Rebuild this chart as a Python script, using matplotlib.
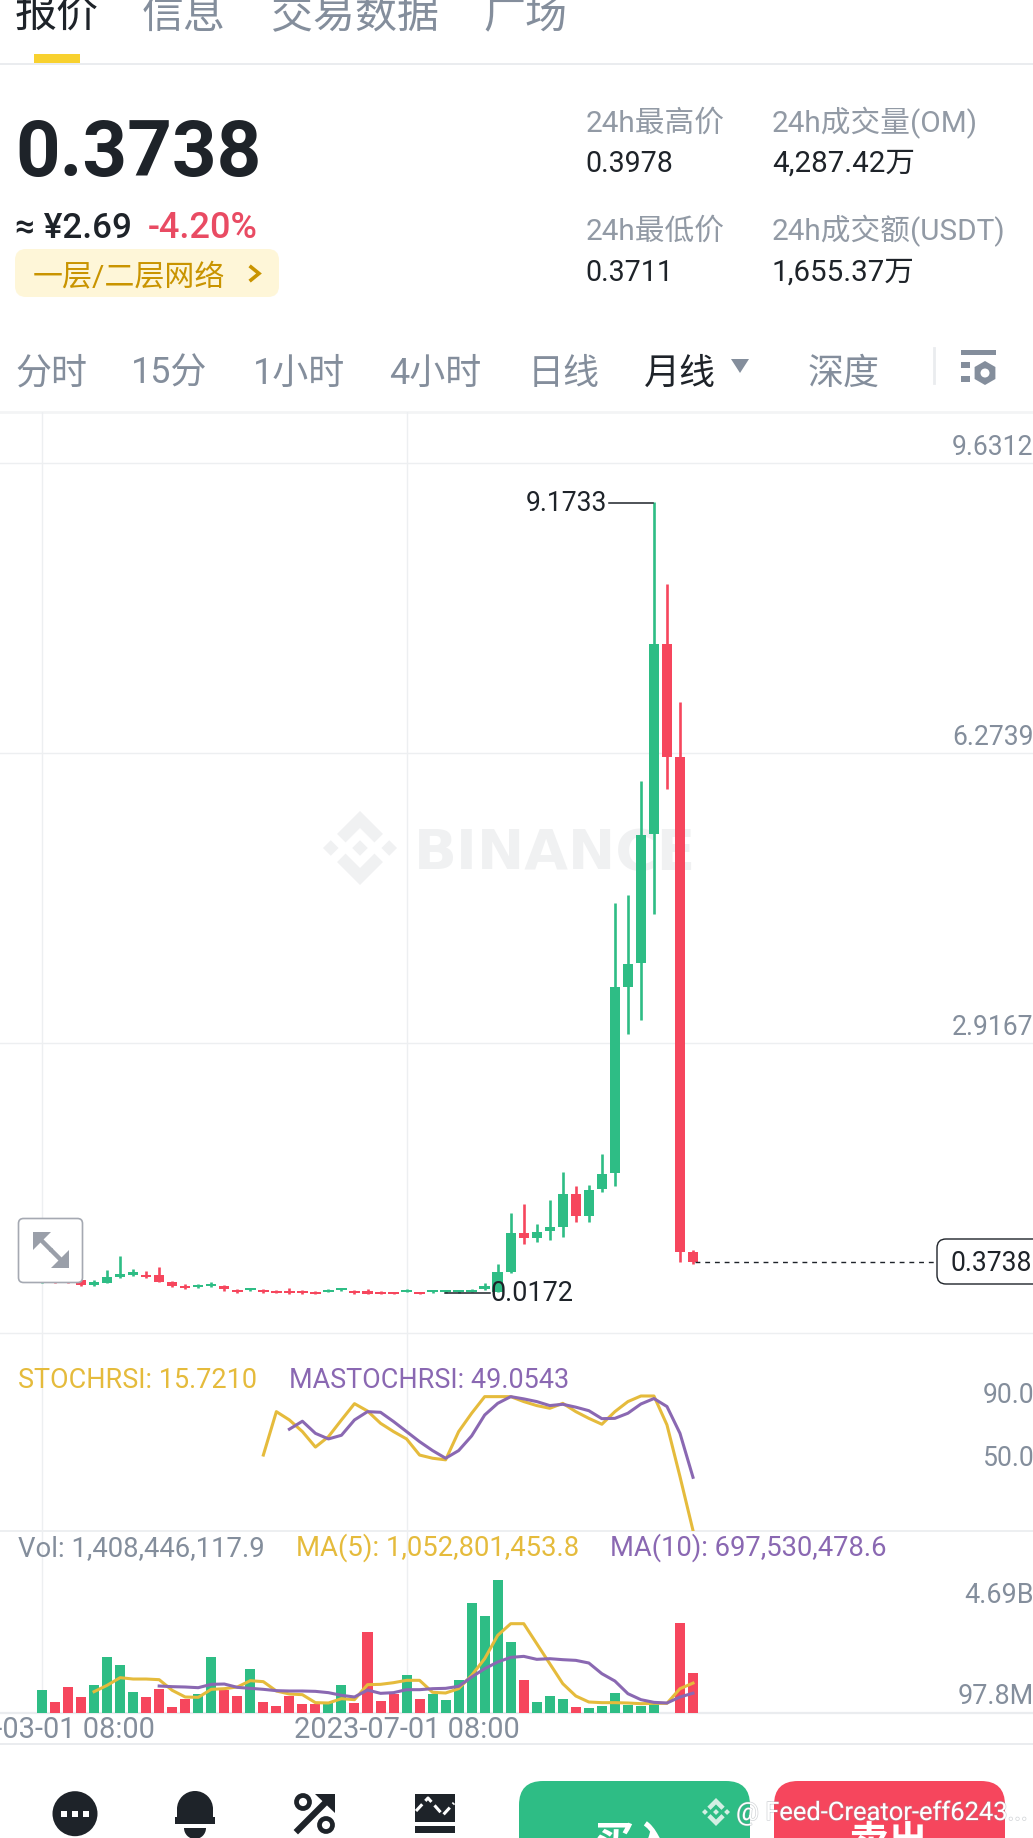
import numpy as np
import matplotlib
matplotlib.use('Agg')
import matplotlib.pyplot as plt
import matplotlib.patheffects as pe
from matplotlib.patches import FancyBboxPatch, Polygon, Circle, Rectangle, Wedge, RegularPolygon

plt.rcParams['font.family'] = ['Roboto', 'Noto Sans CJK SC', 'DejaVu Sans']

W, H = 1033, 1838

# candles
opens = [.15, .17, .15, .1695, .1155, .1387, .2081, .2274, .2313, .2236, .1503, .1001, .0924, .1001, .1001, .0538,
         .0499, .0538, .0461, .0461, .0461, .0345, .0345, .0499, .0422, .0383, .0345, .0268, .0345, .0152, .0306,
         .0306, .0306, .0345, .0692, .0345, .2621, .7174, .6518, .7405, .7868, 1.1650, .9142, 1.2190, 1.4043,
         3.5649, 3.8358, 5.3292, 7.5323, 6.2206, .4900]
closes = [.17, .15, .14, .1117, .1425, .2081, .2390, .2583, .2004, .1503, .1001, .0731, .1155, .1271, .0692, .0306,
          .0731, .0345, .0229, .0191, .0191, .0113, .0576, .0692, .0191, .0113, .0113, .0036, .0538, .0036, .0499,
          .0499, .0538, .0576, .1039, .2621, .7174, .6595, .7289, .7830, 1.1650, .9142, 1.2152, 1.4004, 3.5614,
          3.8277, 5.3246, 7.5323, 6.2206, .4900, .3738]
highs = [.19, .19, .17, .1850, .1657, .2892, .4474, .2930, .2776, .3200, .1580, .1271, .1271, .1425, .1155, .0615,
         .0808, .0653, .0538, .0731, .0538, .0461, .0653, .0769, .0499, .0615, .0461, .0345, .0615, .0229, .0576,
         .0576, .0576, .0615, .1310, .3509, .9489, 1.0454, .8138, 1.0994, 1.4158, 1.2576, 1.2731, 1.6242, 4.5304,
         4.6265, 5.9463, 9.1733, 8.2235, 6.8643, .5133]
lows = [.13, .14, .13, .0962, .1001, .1310, .1966, .2120, .1927, .1425, .0846, .0653, .0769, .0885, .0461, .0229,
        .0422, .0229, .0152, .0075, .0113, .0036, .0268, .0422, .0075, .0036, .0036, .0020, .0268, .0020, .0191,
        .0172, .0229, .0268, .0576, .0306, .2466, .5900, .6054, .6363, .6672, .8370, .8447, 1.1843, 1.2615,
        3.0139, 3.1794, 4.4031, 5.8502, .3745, .3580]

# volumen en millones
volumes = [798, 399, 927, 563, 974, 1971, 1689, 739, 575, 845, 199, 481, 657, 1959, 798, 610, 1537, 375, 235, 610,
           305, 305, 352, 985, 352, 2839, 434, 680, 1325, 481, 680, 457, 1173, 3859, 3413, 4690, 2487, 1173, 375,
           598, 481, 223, 176, 235, 716, 293, 235, 328, 0, 3155, 1408]
vol_red = [1, 2, 3, 8, 9, 10, 11, 14, 15, 17, 18, 19, 20, 21, 24, 25, 26, 27, 29, 37, 41, 48, 49, 50]
ma5_start = 4
ma5 = [751, 974, 1243, 1196, 1196, 1173, 798, 563, 551, 833, 856, 915, 1138, 1103, 774, 669, 645, 364, 352, 504,
       469, 997, 1009, 1067, 1150, 1150, 727, 704, 856, 1325, 1912, 2733, 3144, 3144, 2440, 1736, 1032, 598, 387,
       364, 364, 352, 328, 340, 340, 856, 1052]
ma10_start = 9
ma10 = [950, 927, 915, 891, 1009, 1020, 903, 868, 833, 786, 774, 774, 762, 716, 622, 563, 809, 692, 716, 821, 821,
        856, 868, 938, 1267, 1560, 1795, 1959, 1994, 1889, 1912, 1877, 1853, 1760, 1384, 1126, 680, 469, 375, 352,
        563, 697]

stoch_start = 17
stoch = [63, 90.2, 85, 77.7, 68, 74.5, 85, 95.2, 90.6, 82.9, 77.7, 73.1, 63, 61, 60, 77.7, 89.2, 99.6, 99.6, 99.6,
         96.5, 94, 92.3, 95.4, 90.2, 86, 82.3, 90.2, 96.5, 100, 100, 81.9, 49.5, 15.721]
mastoch_start = 19
mastoch = [79.2, 84.2, 76.6, 73.1, 75.4, 85, 90.2, 89.8, 84, 77.7, 71.4, 65.8, 61, 65.8, 75, 88.1, 95.4, 99.6, 98.2,
           96.5, 94, 94.8, 93, 90.8, 85.8, 86, 89.2, 95, 98.4, 93.4, 76.6, 49.0543]

price_ticks = [9.6312, 6.2739, 2.9167]
price_labels = ['9.6312', '6.2739', '2.9167']
x_ticks = [0, 28]
x_labels = ['2023-03-01 08:00', '2023-07-01 08:00']

GREEN = '#2EBD85'
RED = '#F6465D'
BLACK = '#1E2329'
GRAY = '#848E9C'
GRID = '#EDEFF1'
YELLOW = '#E5BB3C'
PURPLE = '#8A68B2'

fig = plt.figure(figsize=(W / 100, H / 100), dpi=100, facecolor='white')


def panel(top, bottom, z):
    a = fig.add_axes([0, 1 - bottom / H, 1, (bottom - top) / H], zorder=z)
    a.patch.set_alpha(0)
    for s in a.spines.values():
        s.set_visible(False)
    a.set_xlim(-42 / 13.02, (W - 42) / 13.02)
    a.set_xticks(x_ticks)
    a.tick_params(length=0, labelbottom=False, labelleft=False)
    a.grid(True, axis='both', color=GRID, linewidth=1.0)
    a.set_axisbelow(True)
    return a


# capa de fondo y capa de encima, en pixeles
back = fig.add_axes([0, 0, 1, 1], zorder=0)
front = fig.add_axes([0, 0, 1, 1], zorder=10)
for a in (back, front):
    a.set_xlim(0, W)
    a.set_ylim(H, 0)
    a.axis('off')
    a.patch.set_alpha(0)


def txt(x, y, s, px, color=BLACK, ha='left', weight='normal', ax=front, **kw):
    return ax.text(x, y, s, fontsize=px * 0.72, color=color, ha=ha, va='baseline', fontweight=weight, **kw)


def logo(ax, cx, cy, r, color, **kw):
    d = r * 0.21
    for dx, dy in [(0, 0), (-r * 0.79, 0), (r * 0.79, 0)]:
        ax.add_patch(Polygon([(cx + dx - d, cy + dy), (cx + dx, cy + dy - d), (cx + dx + d, cy + dy),
                              (cx + dx, cy + dy + d)], color=color, lw=0, **kw))
    for sgn in (-1, 1):
        ax.add_patch(Polygon([(cx, cy + sgn * r), (cx + r * 0.62, cy + sgn * r * 0.38),
                              (cx + r * 0.39, cy + sgn * r * 0.15), (cx, cy + sgn * r * 0.54),
                              (cx - r * 0.39, cy + sgn * r * 0.15), (cx - r * 0.62, cy + sgn * r * 0.38)],
                             color=color, lw=0, **kw))


# marca de agua
logo(back, 360, 848, 37, '#F0F1F2')
txt(414, 869, 'BINANCE', 56.5, '#F0F1F2', weight='bold', ax=back, family='DejaVu Sans')

# precio
ax = panel(412, 1333, 2)
ax.set_ylim(6.2739 - (1333 - 752.7) * 0.011577, 6.2739 + (752.7 - 412) * 0.011577)
ax.set_yticks(price_ticks)
xs = np.arange(len(opens))
o, c = np.array(opens), np.array(closes)
col = [GREEN if c[i] >= o[i] else RED for i in xs]
ax.vlines(xs, lows, highs, colors=col, linewidth=1.9, zorder=3)
ax.bar(xs, np.maximum(np.abs(c - o), 0.023), bottom=np.minimum(o, c), width=0.8, color=col, zorder=4)

# stochrsi
ax2 = panel(1333, 1531, 2)
ax2.set_ylim((1555.6 - 1531) / 1.596, (1555.6 - 1333) / 1.596)
ax2.set_yticks([])
ax2.plot(np.arange(stoch_start, stoch_start + len(stoch)), stoch, color=YELLOW, lw=2.2)
ax2.plot(np.arange(mastoch_start, mastoch_start + len(mastoch)), mastoch, color=PURPLE, lw=2.2)

# volumen
ax3 = panel(1531, 1713, 2)
ax3.set_ylim(0, (1713 - 1531) * 35.2)
ax3.set_yticks([])
ax3.bar(np.arange(len(volumes)), volumes, width=0.77,
        color=[RED if i in vol_red else GREEN for i in range(len(volumes))], zorder=3)
ax3.plot(np.arange(ma5_start, ma5_start + len(ma5)), ma5, color=YELLOW, lw=2.2, zorder=4)
ax3.plot(np.arange(ma10_start, ma10_start + len(ma10)), ma10, color=PURPLE, lw=2.2, zorder=5)

# separadores
for y, lw, cc in [(63.5, 1.4, '#EAECEF'), (412, 2, '#F3F4F5'), (1333, 1, GRID), (1531, 1.4, GRID),
                  (1713, 1.6, '#EAECEF'), (1744, 1.4, '#EAECEF')]:
    back.plot([0, W], [y, y], color=cc, lw=lw)

# pestañas
txt(15, 28, '报价', 42, BLACK, weight='medium')
txt(142, 28, '信息', 42, GRAY, weight='medium')
txt(271, 28, '交易数据', 42, GRAY, weight='medium')
txt(483, 28, '广', 42, GRAY, weight='medium')
txt(524, 28, '场', 42, GRAY, weight='medium')
front.add_patch(Rectangle((34, 53.5), 46, 9, color='#F8D12F', lw=0))

# precio actual
txt(15, 175.7, '0.3738', 78, BLACK, weight='bold')
txt(15, 238, '≈ ¥2.69', 35, BLACK, weight='medium')
txt(148, 238, '-4.20%', 36, '#E94B63', weight='medium')
front.add_patch(FancyBboxPatch((15, 249), 264, 48, boxstyle='round,pad=0,rounding_size=11',
                               facecolor='#FEF6D8', edgecolor='none'))
txt(33, 285, '一层/二层网络', 30, '#C99400')
front.plot([251, 259, 251], [267, 273.5, 280], color='#C99400', lw=2.6, solid_joinstyle='miter')

# estadisticas
STAT = '#929AA5'
txt(586, 132, '24h最高价', 29.7, STAT)
txt(585, 172, '0.3978', 28.5, BLACK)
txt(772, 132, '24h成交量(OM)', 29.7, STAT)
txt(772, 172, '4,287.42万', 29.5, BLACK)
txt(586, 240, '24h最低价', 29.7, STAT)
txt(585, 281, '0.3711', 28.5, BLACK)
txt(772, 240, '24h成交额(USDT)', 29.7, STAT)
txt(772, 281, '1,655.37万', 29.5, BLACK)

# intervalos
for x, s, cc in [(15, '分时', GRAY), (131, '15分', GRAY), (253, '1小时', GRAY), (389, '4小时', GRAY),
                 (528, '日线', GRAY), (644, '月线', BLACK), (808, '深度', GRAY)]:
    txt(x, 384, s, 36, cc, weight='medium' if cc == BLACK else 'normal')
front.add_patch(Polygon([(731, 359), (749, 359), (740, 373)], color=GRAY, lw=0))
front.plot([934, 934], [348, 383], color='#EAECEF', lw=2)
front.add_patch(Rectangle((961, 350), 35, 5, color=GRAY, lw=0))
front.add_patch(Rectangle((961, 362), 9, 6, color=GRAY, lw=0))
front.add_patch(Rectangle((961, 376), 9, 6, color=GRAY, lw=0))
front.add_patch(RegularPolygon((985, 373), 6, radius=12, color=GRAY, lw=0))
front.add_patch(Circle((985, 373), 4.5, color='white', lw=0))

# etiquetas del eje
for v, s in zip(price_ticks, price_labels):
    y = 752.7 - (v - 6.2739) / 0.011577
    txt(952, y - 8, s, 26.5, GRAY)
txt(983, 1403, '90.0', 26.5, GRAY)
txt(983, 1466, '50.0', 26.5, GRAY)
txt(964, 1603, '4.69B', 27, GRAY)
txt(958, 1704, '97.8M', 27, GRAY)

# marcas de maximo, minimo y ultimo
txt(526, 511, '9.1733', 26.5, BLACK)
front.plot([609, 653], [502.7, 502.7], color=BLACK, lw=1.1)
txt(491, 1301, '0.0172', 27, BLACK)
front.plot([445, 490], [1292.7, 1292.7], color=BLACK, lw=1.1)
front.plot([695, 937], [1261.7, 1261.7], color=BLACK, lw=1.0, dashes=(3.5, 3.5))
front.add_patch(FancyBboxPatch((937, 1239), 120, 45, boxstyle='round,pad=0,rounding_size=9',
                               facecolor='white', edgecolor=BLACK, lw=1.0))
txt(951, 1271, '0.3738', 26.5, BLACK)

# boton expandir
front.add_patch(FancyBboxPatch((18.5, 1218.5), 64, 64, boxstyle='round,pad=0,rounding_size=5',
                               facecolor='white', edgecolor='#A5A9B2', lw=1.2))
front.add_patch(Polygon([(33, 1232), (51, 1232), (33, 1250)], color='#9A9FA9', lw=0))
front.add_patch(Polygon([(69, 1268), (69, 1250), (51, 1268)], color='#9A9FA9', lw=0))
front.plot([40, 50], [1239, 1249], color='#9A9FA9', lw=3.2)
front.plot([52, 62], [1251, 1261], color='#9A9FA9', lw=3.2)

# leyendas
txt(18, 1388, 'STOCHRSI: 15.7210', 27, YELLOW)
txt(289, 1388, 'MASTOCHRSI: 49.0543', 27, PURPLE)
txt(18, 1556, 'Vol: 1,408,446,117.9', 27.5, GRAY)
txt(296, 1556, 'MA(5): 1,052,801,453.8', 27.5, YELLOW)
txt(610, 1556, 'MA(10): 697,530,478.6', 27.4, PURPLE)

# fechas
for t, s in zip(x_ticks, x_labels):
    txt(42 + 13.02 * t, 1738, s, 29, GRAY, ha='center')

# iconos de abajo
front.add_patch(Circle((75, 1813.7), 22.5, color=BLACK, lw=0))
for x in (64, 75, 86):
    front.add_patch(Rectangle((x - 3, 1811), 6, 6, color='white', lw=0))
front.add_patch(Wedge((195, 1809), 18, 180, 360, color=BLACK, lw=0))
front.add_patch(Rectangle((177, 1808), 36, 12, color=BLACK, lw=0))
front.add_patch(Rectangle((175, 1817), 40, 7, color=BLACK, lw=0))
front.add_patch(Wedge((195, 1828), 11, 0, 180, color=BLACK, lw=0))
front.plot([298, 328], [1830, 1800], color=BLACK, lw=4.5)
front.add_patch(Polygon([(315, 1794), (335, 1794), (335, 1813)], color=BLACK, lw=0))
front.add_patch(Circle((303, 1802), 6.5, facecolor='white', edgecolor=BLACK, lw=3.4))
front.add_patch(Circle((326, 1825), 6.5, facecolor='white', edgecolor=BLACK, lw=3.4))
front.add_patch(Rectangle((415, 1794), 40, 28, color=BLACK, lw=0))
front.add_patch(Rectangle((415, 1826), 40, 7, color=BLACK, lw=0))
front.plot([416, 428, 443, 454], [1811, 1798, 1815, 1803], color='white', lw=2.2, dashes=(3, 1.5))

# botones
for x, cc, s in [(519, GREEN, '买入'), (774, RED, '卖出')]:
    front.add_patch(FancyBboxPatch((x, 1781), 231, 100, boxstyle='round,pad=0,rounding_size=24',
                                   facecolor=cc, edgecolor='none'))
    txt(x + 115, 1855, s, 40, 'white', ha='center', weight='bold')

# marca de agua de abajo
logo(front, 716, 1812, 14, '#D3EFE4')
txt(736, 1820, '@ Feed-Creator-eff6243...', 25.5, 'white',
    path_effects=[pe.withStroke(linewidth=1.0, foreground='#9AA0A8', alpha=0.45)])

plt.savefig('out.png', dpi=100)
